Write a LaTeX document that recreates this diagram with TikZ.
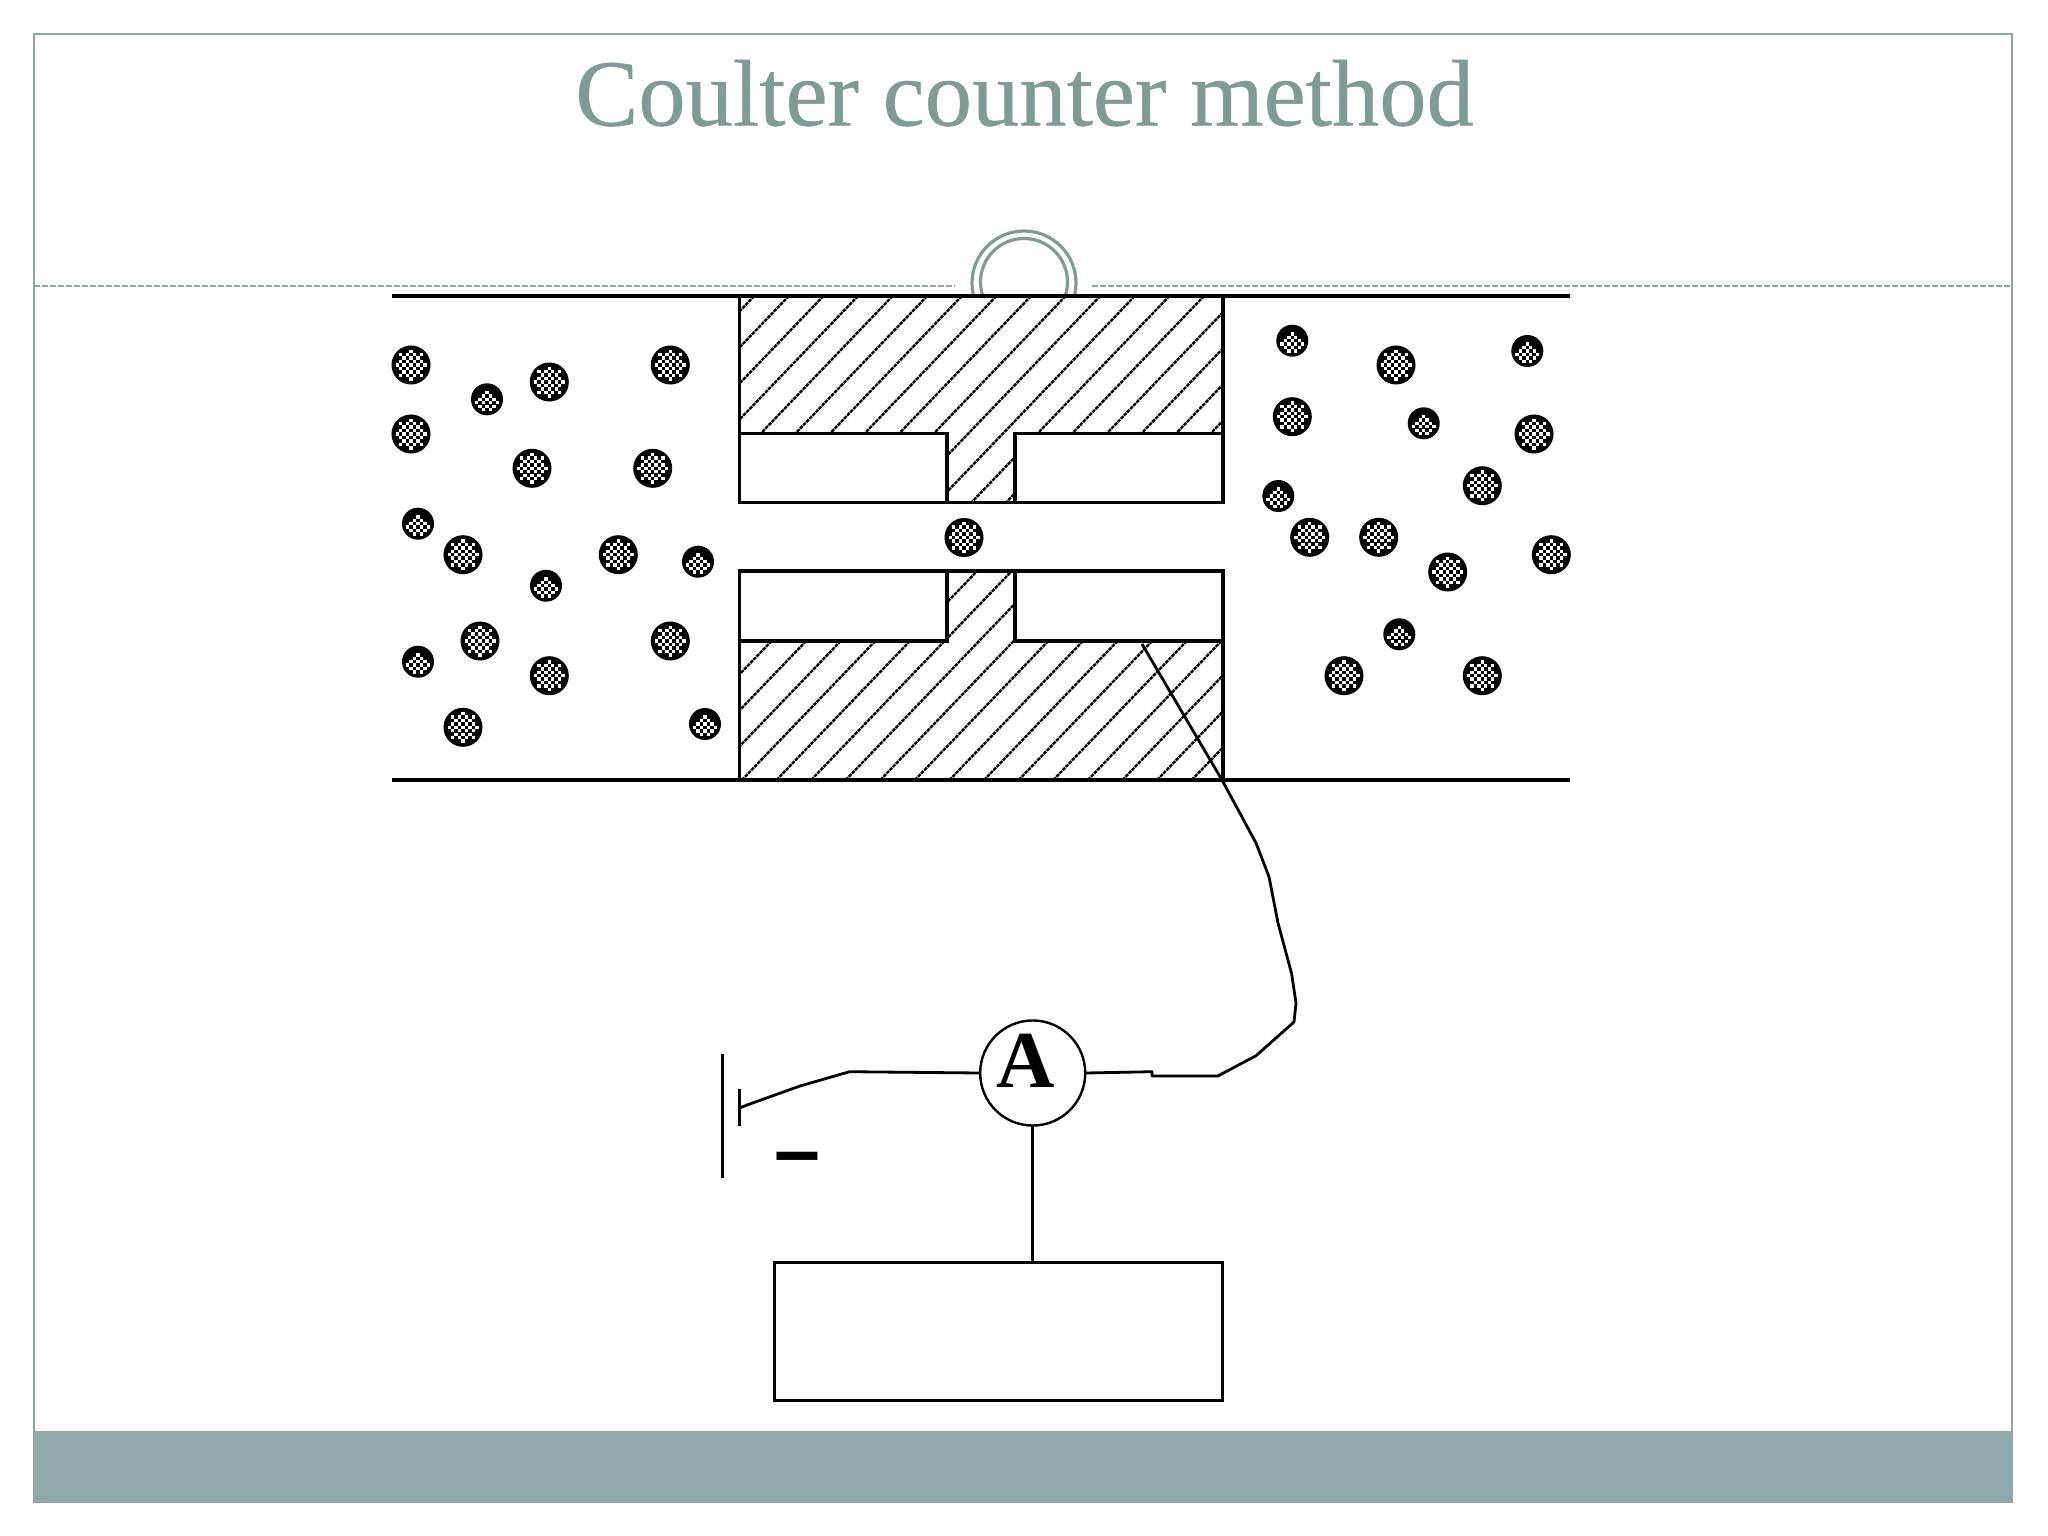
\documentclass[tikz,border=0pt]{standalone}
\usepackage{fontspec}
\usetikzlibrary{calc}
\setmainfont{Liberation Serif}
\newfontfamily\titlefont[FakeBold=0.4]{Liberation Serif}
\newfontfamily\dashfont{Liberation Sans}
\definecolor{slate}{HTML}{7F9A97}
\definecolor{slateband}{HTML}{8FA9AA}
\definecolor{slateline}{HTML}{8DA5A2}

\begin{document}
\begin{tikzpicture}[x=0.01cm,y=-0.01cm,
  wall/.style={draw=black,line width=0.035cm},
  wire/.style={draw=black,line width=0.028cm,line join=round},
  hatchline/.style={draw=black,line width=0.024cm,dash pattern=on 0.036cm off 0.009cm},
  bead/.style={circle,fill=black,inner sep=0pt,outer sep=0pt},
  bigbead/.style={bead,minimum size=0.39cm,path picture={\beaddots{0/0,2/0,-2/0,4/0,-4/0,0/2,0/-2,0/4,0/-4,1/1,1/-1,-1/1,-1/-1,2/2,2/-2,-2/2,-2/-2,3/1,3/-1,-3/1,-3/-1,1/3,-1/3,1/-3,-1/-3,3/3,3/-3,-3/3,-3/-3}}},
  smallbead/.style={bead,minimum size=0.32cm,path picture={\beaddots{0/-2,-1/-1,1/-1,-2/0,0/0,2/0,-3/1,-1/1,1/1,3/1,-2/2,0/2,2/2,-1/3,1/3}}}]

  \def\beaddots#1{
    \foreach \i/\j in {#1} {
      \fill[white] ($(path picture bounding box.center)+(\i*3.45-1.7,\j*3.45-1.7)$) rectangle +(3.4,3.4);
    }
  }

  \useasboundingbox (0,0) rectangle (2048,1536);

  \draw[slateline,line width=0.025cm] (34,34) rectangle (2012,1502);
  \fill[slateband] (34,1431) rectangle (2012.5,1502);

  \node[font=\titlefont\fontsize{26.9}{30}\selectfont,text=slate,anchor=base,inner sep=0pt] (title) at (1024.5,125.5) {Coulter counter method};

  \draw[slateline,line width=0.016cm,dash pattern=on 0.055cm off 0.025cm] (34,286) -- (955,286);
  \draw[slateline,line width=0.016cm,dash pattern=on 0.055cm off 0.025cm] (1092,286) -- (2012,286);

  \begin{scope}
    \clip (960,220) rectangle (1090,296);
    \draw[slate,line width=0.032cm] (1024,283) circle (52);
    \draw[slate,line width=0.032cm] (1024,282) circle (43.5);
  \end{scope}

  \begin{scope}
    \clip (739,296) -| (1223,433.5) -| (1015,502.5) -| (947,433.5) -| (739,296);
    \foreach \k in {-2,...,19} {
      \pgfmathsetmacro{\topx}{788.8+34.6*\k}
      \draw[hatchline] (\topx,296) -- ({\topx-198},502.5);
    }
  \end{scope}

  \begin{scope}
    \clip (739,780) -| (1223,641) -| (1015,571) -| (947,641) -| (739,780);
    \foreach \k in {-7,...,14} {
      \pgfmathsetmacro{\botx}{776.5+34.6*\k}
      \draw[hatchline] (\botx,780) -- ({\botx+200.6},571);
    }
  \end{scope}

  \draw[wall] (392,296) -- (1570,296);
  \draw[wall] (392,780) -- (1570,780);
  \draw[wall] (739.4,296) rectangle (1223,502.5);
  \draw[wall] (739.4,433.5) -| (947,502.5);
  \draw[wall] (1223,433.5) -| (1015,502.5);
  \draw[wall] (739.4,571) rectangle (1223,780);
  \draw[wall] (739.4,641) -| (947,571);
  \draw[wall] (1223,641) -| (1015,571);

  \foreach \x/\y [count=\n] in {411/365,549.3/382,670.3/365,411/434,532/468.3,652.7/468.3,463/554.7,618.3/554.7,480/641,670.3/641,549.3/675.7,463/727.3,964/537.5,1396/365,1292.3/416.7,1534/434,1482.3/485.7,1309.7/537.3,1378.7/537.3,1447.7/572,1551.3/554.7,1344/675.7,1482.3/675.7} {
    \node[bigbead] (big\n) at (\x,\y) {};
  }
  \foreach \x/\y [count=\n] in {487/399.3,418/523.7,546/585.7,698/561.7,418/661.7,705/724,1292.3/340.7,1527.3/351,1423.7/423.3,1278.3/496,1399.3/634.3} {
    \node[smallbead] (small\n) at (\x,\y) {};
  }

  \node[circle,draw=black,line width=0.024cm,minimum size=1.05cm,inner sep=0pt,outer sep=0pt] (ammeter) at (1032.7,1073) {};
  \node[font=\fontsize{23}{26}\selectfont\bfseries,inner sep=0pt] (ammeterlabel) at (1026,1061) {A};
  \node[draw=black,line width=0.03cm,minimum width=4.48cm,minimum height=1.38cm,inner sep=0pt,outer sep=0pt] (display) at (998.3,1331.7) {};

  \coordinate (electrode) at (1142,644);
  \coordinate (plate) at (739.4,1108);

  \draw[wire] (722.4,1053.6) -- (722.4,1177.7);
  \draw[wire] (739.4,1088.5) -- (739.4,1126);
  \node[font=\dashfont\bfseries\fontsize{23.5}{26}\selectfont,inner sep=0pt] (minus) at (797,1165) {–};

  \draw[wire] (ammeter.west) -- (849.6,1071.7) -- (800,1086) -- (747,1105) -- (plate);
  \draw[wire] (ammeter.east) -- (1152,1071.7) -- (1152,1075.9) -- (1218,1075.9) -- (1256,1055.7) -- (1294,1022) -- (1296,1003) -- (1291.6,973.6) -- (1278,923) -- (1269,876.8) -- (1256,843) -- (1222,780) -- (electrode);
  \draw[wire] (ammeter.south) -- (ammeter.south |- display.north);

\end{tikzpicture}
\end{document}
